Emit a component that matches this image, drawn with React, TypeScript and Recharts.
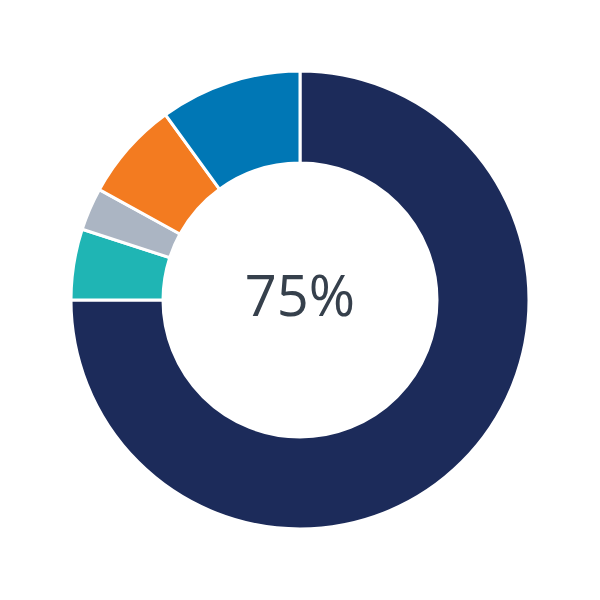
import { PieChart, Pie, Cell } from 'recharts';

const labels = ['Primary', 'Teal', 'Gray', 'Orange', 'Blue'];
const values = [75, 5, 3, 7, 10];
const colors = ['#1c2b5a', '#1fb5b4', '#abb5c3', '#f37b20', '#0077b5'];
const centerLabel = '75%';

const data = labels.map((name, i) => ({ name, value: values[i] }));

export default function App() {
  return (
    <div style={{ position: 'fixed', top: 0, left: 0, width: 600, height: 600, background: '#fff' }}>
      <PieChart width={600} height={600} margin={{ top: 0, right: 0, bottom: 0, left: 0 }}>
        <Pie
          data={data}
          dataKey="value"
          cx={300}
          cy={300}
          innerRadius={137}
          outerRadius={229}
          startAngle={90}
          endAngle={-270}
          stroke="#ffffff"
          strokeWidth={3}
          isAnimationActive={false}
        >
          {data.map((d, i) => (
            <Cell key={d.name} fill={colors[i]} />
          ))}
        </Pie>
        {/* center value */}
        <text
          x={300}
          y={294}
          textAnchor="middle"
          dominantBaseline="central"
          style={{ fontFamily: '"Open Sans", sans-serif', fontSize: 56, fill: '#36404c' }}
        >
          {centerLabel}
        </text>
      </PieChart>
    </div>
  );
}
